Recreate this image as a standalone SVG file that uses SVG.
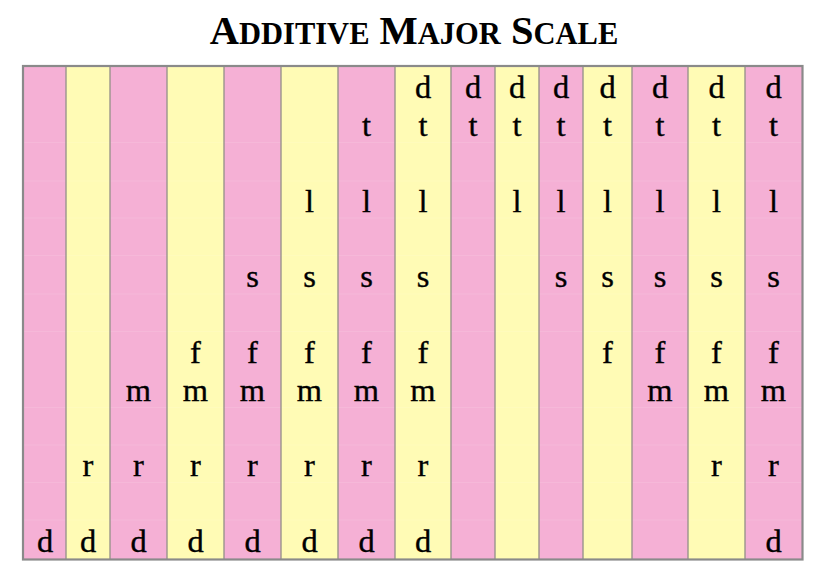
<svg xmlns="http://www.w3.org/2000/svg" width="825" height="574" viewBox="0 0 825 574">
<style>
.pk{fill:#F5B0D5}
.yl{fill:#FFFBB5}
.sep{stroke:#9a948c;stroke-width:1.4}
.faint{stroke:#ffffff;stroke-opacity:0.1;stroke-width:1}
.n{font-family:"Liberation Serif","Times New Roman",serif;font-size:32.5px;fill:#000;stroke:#000;stroke-width:0.35;text-anchor:middle}
.title{font-family:"Liberation Serif","Times New Roman",serif;font-weight:bold;fill:#000;text-anchor:middle}
</style>
<rect width="825" height="574" fill="#ffffff"/>
<g id="title">
<text class="title" x="414" y="43.5" font-size="40.5">A<tspan font-size="30.5">DDITIVE</tspan> M<tspan font-size="30.5">AJOR</tspan> S<tspan font-size="30.5">CALE</tspan></text>
</g>
<g id="columns">
<rect class="pk" x="24" y="67" width="42" height="492"/>
<rect class="yl" x="66" y="67" width="44" height="492"/>
<rect class="pk" x="110" y="67" width="57" height="492"/>
<rect class="yl" x="167" y="67" width="57" height="492"/>
<rect class="pk" x="224" y="67" width="57" height="492"/>
<rect class="yl" x="281" y="67" width="57" height="492"/>
<rect class="pk" x="338" y="67" width="57" height="492"/>
<rect class="yl" x="395" y="67" width="56" height="492"/>
<rect class="pk" x="451" y="67" width="44" height="492"/>
<rect class="yl" x="495" y="67" width="44" height="492"/>
<rect class="pk" x="539" y="67" width="44" height="492"/>
<rect class="yl" x="583" y="67" width="49" height="492"/>
<rect class="pk" x="632" y="67" width="56" height="492"/>
<rect class="yl" x="688" y="67" width="57" height="492"/>
<rect class="pk" x="745" y="67" width="57" height="492"/>
</g>
<g id="grid">
<g class="faint">
<line x1="24" y1="142.5" x2="802" y2="142.5"/>
<line x1="24" y1="181" x2="802" y2="181"/>
<line x1="24" y1="218" x2="802" y2="218"/>
<line x1="24" y1="255.5" x2="802" y2="255.5"/>
<line x1="24" y1="294" x2="802" y2="294"/>
<line x1="24" y1="331.5" x2="802" y2="331.5"/>
<line x1="24" y1="407.5" x2="802" y2="407.5"/>
<line x1="24" y1="445" x2="802" y2="445"/>
<line x1="24" y1="482.5" x2="802" y2="482.5"/>
<line x1="24" y1="520" x2="802" y2="520"/>
</g>
<g class="sep">
<line x1="66" y1="67" x2="66" y2="559"/>
<line x1="110" y1="67" x2="110" y2="559"/>
<line x1="167" y1="67" x2="167" y2="559"/>
<line x1="224" y1="67" x2="224" y2="559"/>
<line x1="281" y1="67" x2="281" y2="559"/>
<line x1="338" y1="67" x2="338" y2="559"/>
<line x1="395" y1="67" x2="395" y2="559"/>
<line x1="451" y1="67" x2="451" y2="559"/>
<line x1="495" y1="67" x2="495" y2="559"/>
<line x1="539" y1="67" x2="539" y2="559"/>
<line x1="583" y1="67" x2="583" y2="559"/>
<line x1="632" y1="67" x2="632" y2="559"/>
<line x1="688" y1="67" x2="688" y2="559"/>
<line x1="745" y1="67" x2="745" y2="559"/>
</g>
<rect x="23" y="66" width="779.5" height="493.5" fill="none" stroke="#8a8a8a" stroke-width="2.2"/>
</g>
<g id="col1"><text class="n" x="45" y="551.9">d</text></g>
<g id="col2"><text class="n" x="88" y="551.9">d</text><text class="n" x="88" y="476.3">r</text></g>
<g id="col3"><text class="n" x="138.5" y="551.9">d</text><text class="n" x="138.5" y="476.3">r</text><text class="n" x="138.5" y="400.7">m</text></g>
<g id="col4"><text class="n" x="195.5" y="551.9">d</text><text class="n" x="195.5" y="476.3">r</text><text class="n" x="195.5" y="400.7">m</text><text class="n" x="195.5" y="362.9">f</text></g>
<g id="col5"><text class="n" x="252.5" y="551.9">d</text><text class="n" x="252.5" y="476.3">r</text><text class="n" x="252.5" y="400.7">m</text><text class="n" x="252.5" y="362.9">f</text><text class="n" x="252.5" y="287.3">s</text></g>
<g id="col6"><text class="n" x="309.5" y="551.9">d</text><text class="n" x="309.5" y="476.3">r</text><text class="n" x="309.5" y="400.7">m</text><text class="n" x="309.5" y="362.9">f</text><text class="n" x="309.5" y="287.3">s</text><text class="n" x="309.5" y="211.7">l</text></g>
<g id="col7"><text class="n" x="366.5" y="551.9">d</text><text class="n" x="366.5" y="476.3">r</text><text class="n" x="366.5" y="400.7">m</text><text class="n" x="366.5" y="362.9">f</text><text class="n" x="366.5" y="287.3">s</text><text class="n" x="366.5" y="211.7">l</text><text class="n" x="366.5" y="136.1">t</text></g>
<g id="col8"><text class="n" x="423" y="551.9">d</text><text class="n" x="423" y="476.3">r</text><text class="n" x="423" y="400.7">m</text><text class="n" x="423" y="362.9">f</text><text class="n" x="423" y="287.3">s</text><text class="n" x="423" y="211.7">l</text><text class="n" x="423" y="136.1">t</text><text class="n" x="423" y="98.3">d</text></g>
<g id="col9"><text class="n" x="473" y="98.3">d</text><text class="n" x="473" y="136.1">t</text></g>
<g id="col10"><text class="n" x="517" y="98.3">d</text><text class="n" x="517" y="136.1">t</text><text class="n" x="517" y="211.7">l</text></g>
<g id="col11"><text class="n" x="561" y="98.3">d</text><text class="n" x="561" y="136.1">t</text><text class="n" x="561" y="211.7">l</text><text class="n" x="561" y="287.3">s</text></g>
<g id="col12"><text class="n" x="607.5" y="98.3">d</text><text class="n" x="607.5" y="136.1">t</text><text class="n" x="607.5" y="211.7">l</text><text class="n" x="607.5" y="287.3">s</text><text class="n" x="607.5" y="362.9">f</text></g>
<g id="col13"><text class="n" x="660" y="98.3">d</text><text class="n" x="660" y="136.1">t</text><text class="n" x="660" y="211.7">l</text><text class="n" x="660" y="287.3">s</text><text class="n" x="660" y="362.9">f</text><text class="n" x="660" y="400.7">m</text></g>
<g id="col14"><text class="n" x="716.5" y="98.3">d</text><text class="n" x="716.5" y="136.1">t</text><text class="n" x="716.5" y="211.7">l</text><text class="n" x="716.5" y="287.3">s</text><text class="n" x="716.5" y="362.9">f</text><text class="n" x="716.5" y="400.7">m</text><text class="n" x="716.5" y="476.3">r</text></g>
<g id="col15"><text class="n" x="773.5" y="98.3">d</text><text class="n" x="773.5" y="136.1">t</text><text class="n" x="773.5" y="211.7">l</text><text class="n" x="773.5" y="287.3">s</text><text class="n" x="773.5" y="362.9">f</text><text class="n" x="773.5" y="400.7">m</text><text class="n" x="773.5" y="476.3">r</text><text class="n" x="773.5" y="551.9">d</text></g>
</svg>
